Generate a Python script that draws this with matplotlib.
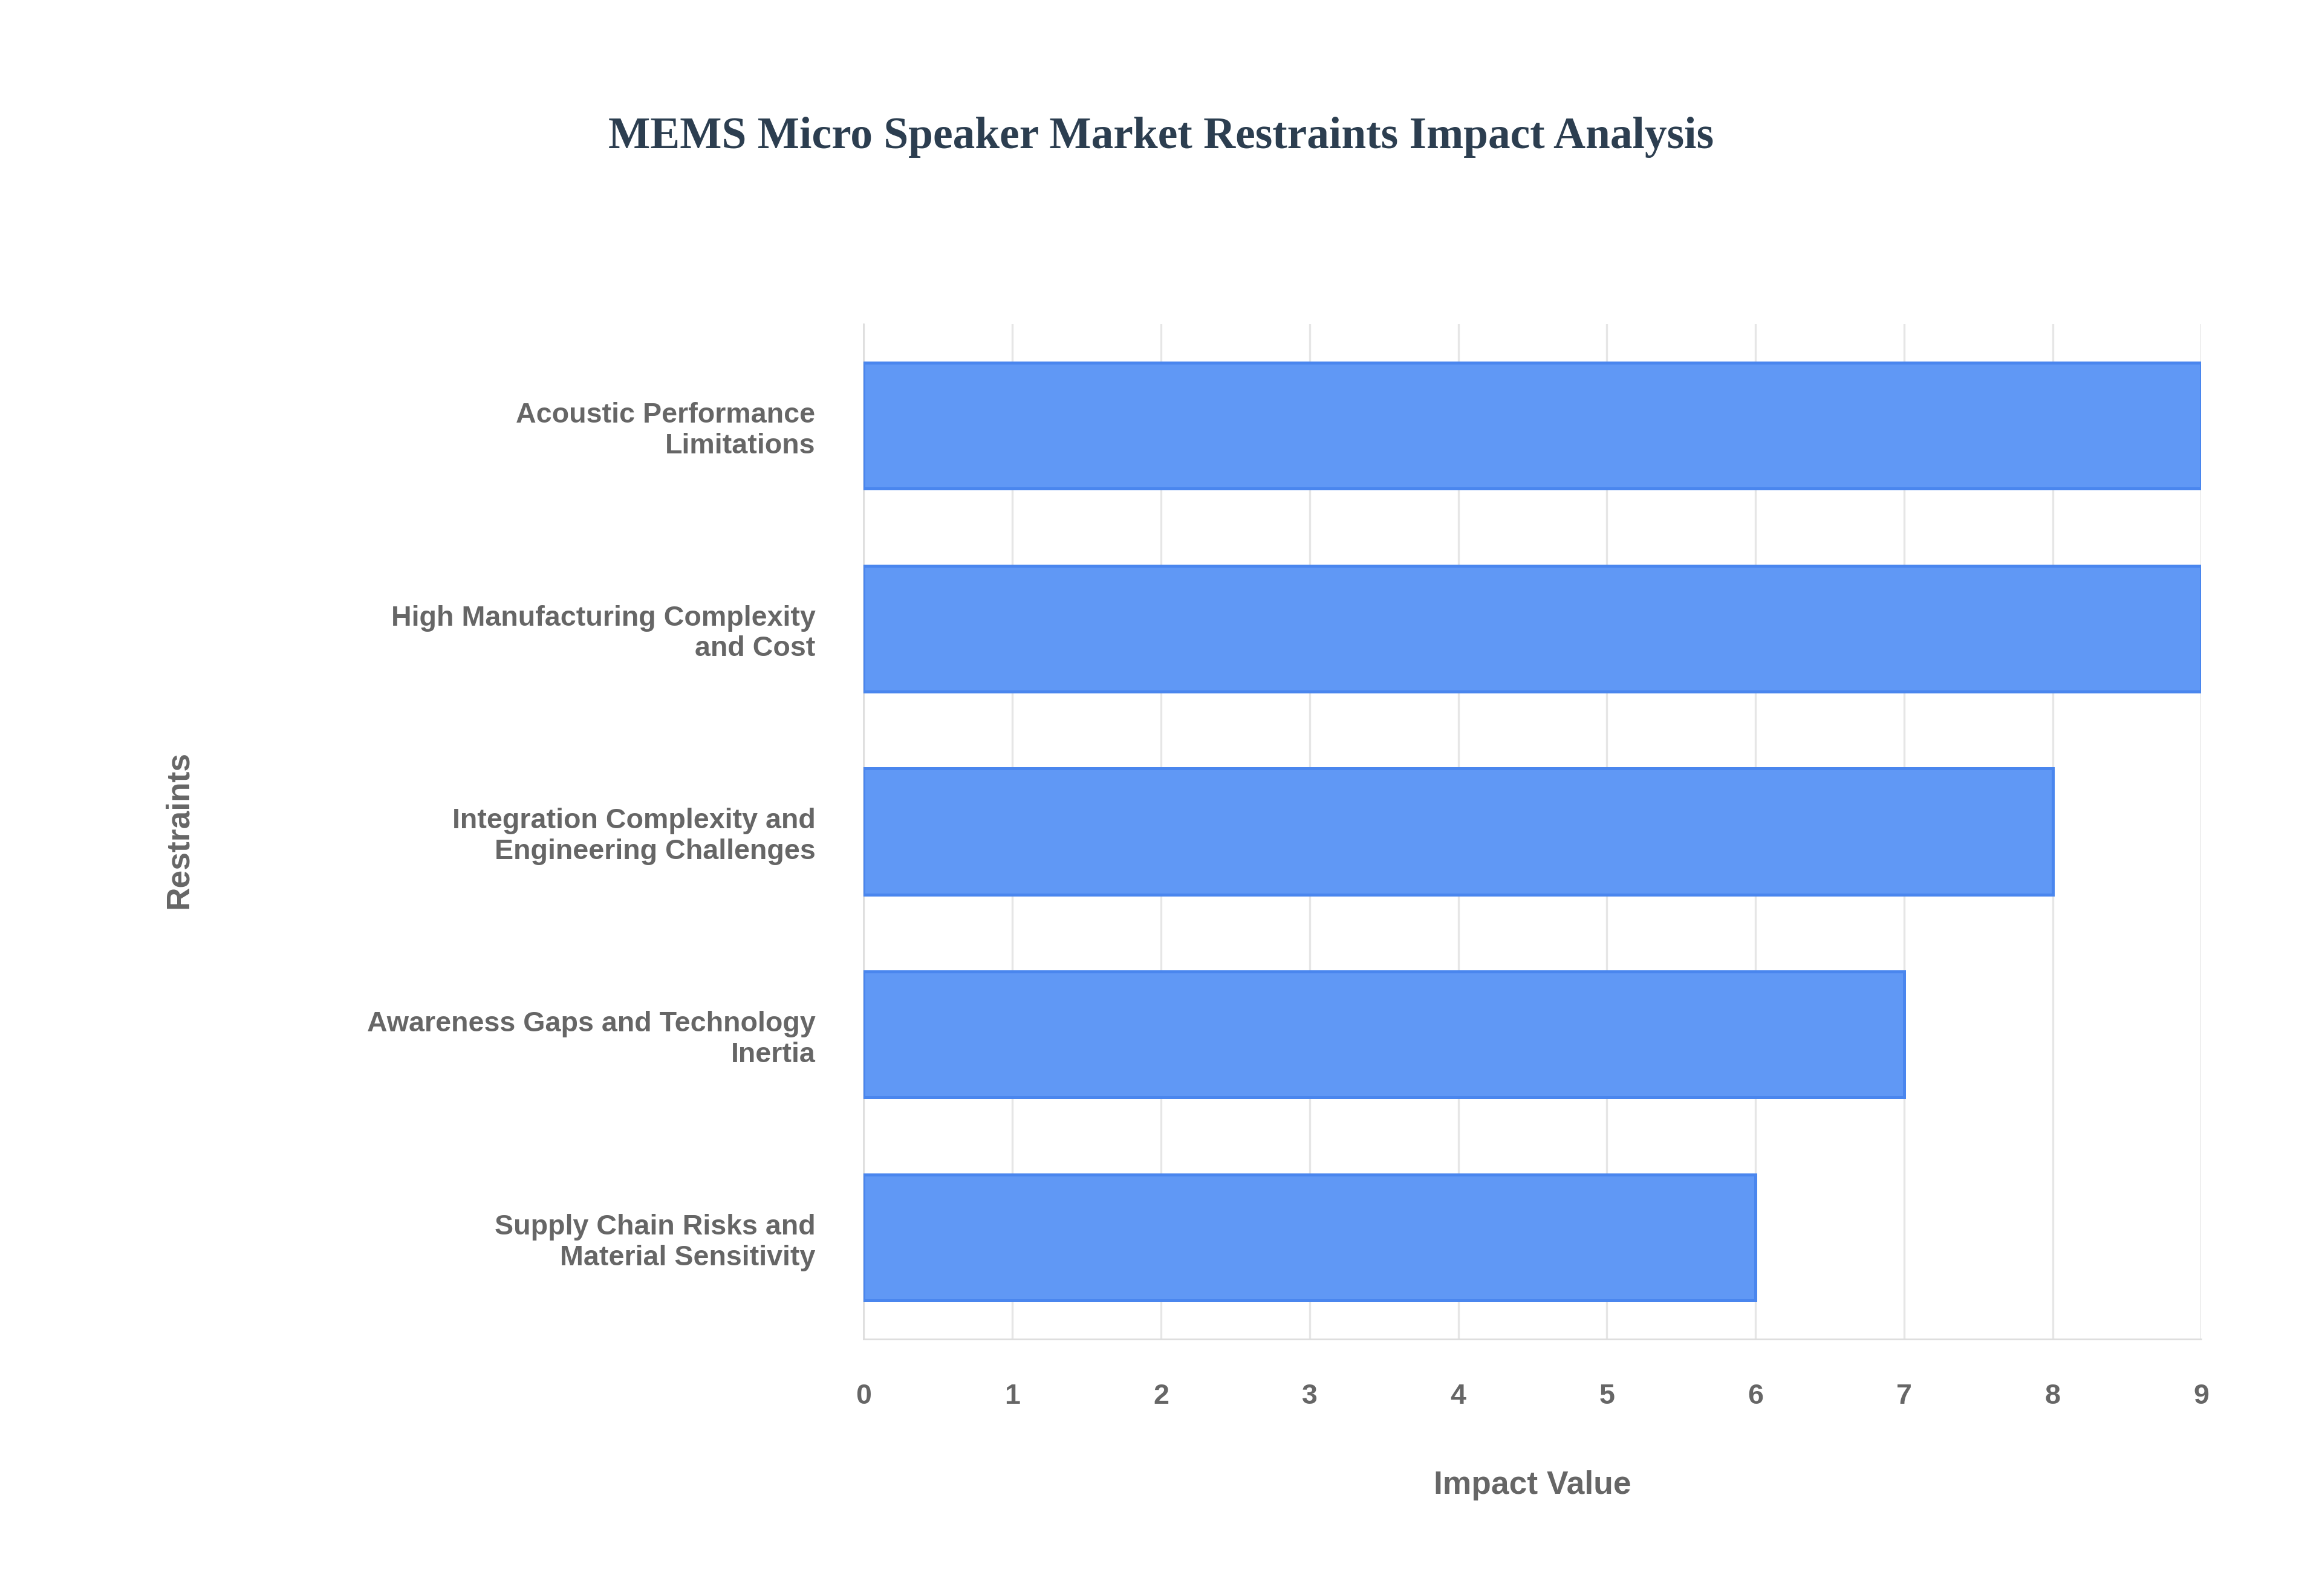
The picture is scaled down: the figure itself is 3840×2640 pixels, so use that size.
import matplotlib.pyplot as plt

# data
restraints = [
    "Acoustic Performance\nLimitations",
    "High Manufacturing Complexity\nand Cost",
    "Integration Complexity and\nEngineering Challenges",
    "Awareness Gaps and Technology\nInertia",
    "Supply Chain Risks and\nMaterial Sensitivity",
]
impact = [9, 9, 8, 7, 6]

plt.rcParams['font.family'] = ['Liberation Sans Narrow', 'Liberation Sans', 'DejaVu Sans']

fig = plt.figure(figsize=(16, 11), dpi=240)
ax = fig.add_axes([0.372, 0.161, 0.576, 0.636])

pos = list(range(len(restraints)))
ax.barh(pos, impact, height=0.62, color='#6098f5', edgecolor='#4a86ee', linewidth=1.5, zorder=3)
ax.set_ylim(len(restraints) - 0.5, -0.5)
ax.set_xlim(0, 9)
ax.set_yticks(pos)
ax.set_yticklabels(restraints, fontsize=14, fontweight='bold', color='#666666')
ax.set_xticks(range(10))
ax.tick_params(axis='x', length=0, pad=22, labelsize=14, labelcolor='#666666')
ax.tick_params(axis='y', length=0, pad=24)
for t in ax.get_xticklabels():
    t.set_fontweight('bold')
ax.grid(axis='x', color='#e6e6e6', linewidth=1, zorder=0)
for s in ['top', 'right']:
    ax.spines[s].set_visible(False)
for s in ['left', 'bottom']:
    ax.spines[s].set_color('#dddddd')

ax.set_xlabel("Impact Value", fontsize=16, fontweight='bold', color='#666666', labelpad=30)
fig.text(0.077, 0.48, "Restraints", rotation=90, fontsize=16, fontweight='bold',
         color='#666666', ha='center', va='center')
fig.text(0.5, 0.914, "MEMS Micro Speaker Market Restraints Impact Analysis",
         fontsize=22, fontweight='bold', color='#2c3e50', ha='center', va='center',
         family=['Liberation Serif', 'DejaVu Serif'])

fig.savefig('out.png')
